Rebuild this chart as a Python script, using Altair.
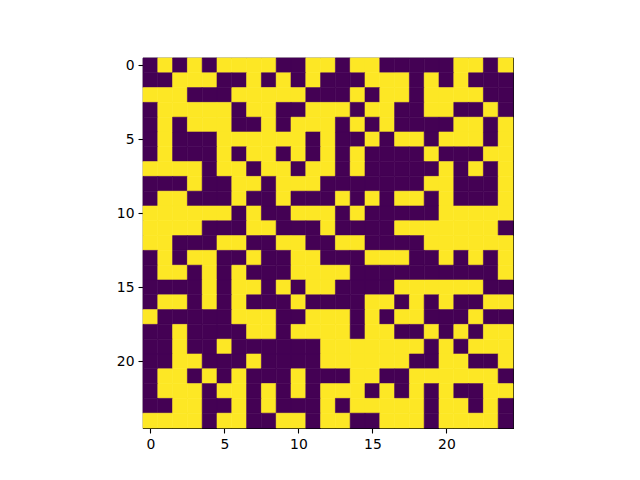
import altair as alt
import pandas as pd

grid = [
    "0101011110011011000001101",
    "0011100101010001110101000",
    "1110001111100010110111100",
    "0111110110011101100110010",
    "0101110010111010100001101",
    "0100011111101001011011101",
    "0100010110101010000100011",
    "1111011011011010000010101",
    "0001001101110000000110001",
    "0110001001000101011010001",
    "1111110100111010000011111",
    "1111000110001000011111110",
    "1100011001100110000111111",
    "0101100100110001110010101",
    "0110101000111100000000001",
    "0000101101011000011111100",
    "0110101000100001101010011",
    "1000001110011101011000100",
    "0010000110111101100101011",
    "0010010000001111111010111",
    "0011000100001111110011001",
    "0110101000100011001111110",
    "0111011010101110101010011",
    "0011001010001011111011010",
    "1111011001101100111011110",
]

tick_values = [0, 5, 10, 15, 20]
colors = ["#440154", "#fde725"]

records = []
for r, row in enumerate(grid):
    for c, ch in enumerate(row):
        records.append({"row": r, "col": c, "value": int(ch)})
df = pd.DataFrame(records)

n = len(grid)
dom = [-0.5, n - 0.5]
cscale = alt.Scale(domain=[0, 1], range=colors)

chart = (
    alt.Chart(df)
    .transform_calculate(
        x0="datum.col - 0.5", x1="datum.col + 0.5",
        y0="datum.row - 0.5", y1="datum.row + 0.5",
    )
    .mark_rect(strokeWidth=0.6)
    .encode(
        x=alt.X("x0:Q", scale=alt.Scale(domain=dom, nice=False, zero=False),
                axis=alt.Axis(values=tick_values, format="d", title=None, grid=False)),
        x2="x1:Q",
        y=alt.Y("y0:Q", scale=alt.Scale(domain=dom, nice=False, zero=False, reverse=True),
                axis=alt.Axis(values=tick_values, format="d", title=None, grid=False)),
        y2="y1:Q",
        color=alt.Color("value:N", scale=cscale, legend=None),
        stroke=alt.Stroke("value:N", scale=cscale, legend=None),
    )
    .properties(
        width=370, height=370,
        autosize=alt.AutoSizeParams(type="none"),
        padding={"left": 135, "top": 50, "right": 119, "bottom": 44},
    )
    .configure_view(stroke="black", strokeWidth=1.1)
    .configure_axis(
        domainColor="black", domainWidth=1.1,
        tickColor="black", tickSize=5, tickWidth=1.1,
        labelColor="black", labelFont="DejaVu Sans", labelFontSize=13.9,
        labelPadding=4,
    )
)

chart.save("out.html", embed_options={"renderer": "svg", "actions": False})
